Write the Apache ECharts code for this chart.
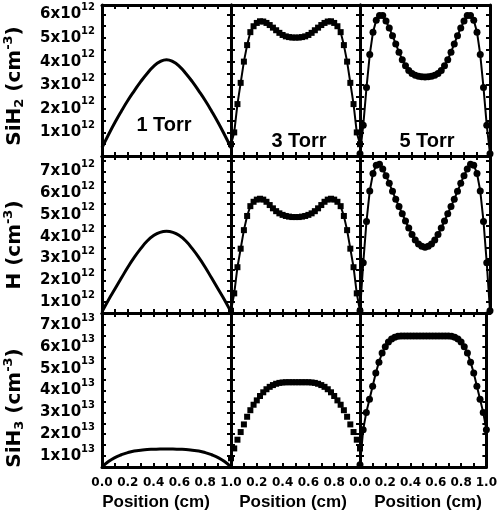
<!DOCTYPE html>
<html>
<head>
<meta charset="utf-8">
<script src="https://cdn.jsdelivr.net/npm/echarts@6.0.0/dist/echarts.min.js"></script>
<style>
  html, body { margin: 0; padding: 0; background: #fff; }
  #chart { width: 500px; height: 512px; }
</style>
</head>
<body>
<div id="chart"></div>
<script>
// x positions (cm)
const posLine = [0, 0.05, 0.1, 0.15, 0.2, 0.25, 0.3, 0.35, 0.4, 0.45, 0.5,
  0.55, 0.6, 0.65, 0.7, 0.75, 0.8, 0.85, 0.9, 0.95, 1.0];
const posMark = [0, 0.025, 0.05, 0.075, 0.1, 0.125, 0.15, 0.175, 0.2, 0.225,
  0.25, 0.275, 0.3, 0.325, 0.35, 0.375, 0.4, 0.425, 0.45, 0.475, 0.5,
  0.525, 0.55, 0.575, 0.6, 0.625, 0.65, 0.675, 0.7, 0.725, 0.75,
  0.775, 0.8, 0.825, 0.85, 0.875, 0.9, 0.925, 0.95, 0.975, 1.0];

// SiH2 (x10^12 cm^-3)
const sih2Torr1 = [0.35, 0.9, 1.42, 1.9, 2.35, 2.76, 3.15, 3.5, 3.8, 4.0, 4.08,
  4.0, 3.8, 3.5, 3.15, 2.76, 2.35, 1.9, 1.42, 0.9, 0.35];
const sih2Torr3 = [0.5, 1.0, 2.2, 3.1, 4.0, 4.7, 5.25, 5.5, 5.64, 5.71, 5.7,
  5.64, 5.55, 5.44, 5.33, 5.22, 5.13, 5.07, 5.04, 5.02, 5.02,
  5.02, 5.04, 5.07, 5.13, 5.22, 5.33, 5.44, 5.55, 5.64, 5.7,
  5.71, 5.64, 5.5, 5.25, 4.7, 4.0, 3.1, 2.2, 1.0, 0.5];
const sih2Torr5 = [0.1, 1.3, 2.9, 4.3, 5.25, 5.75, 5.95, 5.95, 5.72, 5.42,
  5.1, 4.75, 4.4, 4.08, 3.82, 3.62, 3.5, 3.42, 3.38, 3.36, 3.35,
  3.36, 3.38, 3.42, 3.5, 3.62, 3.82, 4.08, 4.4, 4.75, 5.1,
  5.42, 5.72, 5.95, 5.95, 5.75, 5.25, 4.3, 2.9, 1.3, 0.1];

// H (x10^12 cm^-3)
const hTorr1 = [0.55, 1.1, 1.6, 2.1, 2.6, 3.05, 3.45, 3.8, 4.05, 4.2, 4.25,
  4.2, 4.05, 3.8, 3.45, 3.05, 2.6, 2.1, 1.6, 1.1, 0.55];
const hTorr3 = [0.6, 1.4, 2.6, 3.45, 4.3, 4.95, 5.4, 5.6, 5.7, 5.74, 5.7,
  5.6, 5.45, 5.3, 5.17, 5.07, 5.0, 4.95, 4.92, 4.9, 4.9,
  4.9, 4.92, 4.95, 5.0, 5.07, 5.17, 5.3, 5.45, 5.6, 5.7,
  5.74, 5.7, 5.6, 5.4, 4.95, 4.3, 3.45, 2.6, 1.4, 0.6];
const hTorr5 = [0.6, 2.8, 4.7, 6.1, 6.9, 7.28, 7.32, 7.1, 6.8, 6.45,
  6.08, 5.72, 5.38, 5.05, 4.72, 4.4, 4.1, 3.85, 3.67, 3.56, 3.52,
  3.56, 3.67, 3.85, 4.1, 4.4, 4.72, 5.05, 5.38, 5.72, 6.08,
  6.45, 6.8, 7.1, 7.32, 7.28, 6.9, 6.1, 4.7, 2.8, 0.6];

// SiH3 (x10^13 cm^-3)
const sih3Torr1 = [0.5, 0.75, 0.93, 1.06, 1.16, 1.23, 1.27, 1.3, 1.31, 1.32, 1.32,
  1.32, 1.31, 1.3, 1.27, 1.23, 1.16, 1.06, 0.93, 0.75, 0.5];
const sih3Torr3 = [0.9, 1.35, 1.75, 2.1, 2.45, 2.8, 3.1, 3.35, 3.55, 3.75,
  3.92, 4.06, 4.17, 4.25, 4.31, 4.35, 4.37, 4.38, 4.38, 4.38, 4.38,
  4.38, 4.38, 4.38, 4.38, 4.37, 4.35, 4.31, 4.25, 4.17, 4.06,
  3.92, 3.75, 3.55, 3.35, 3.1, 2.8, 2.45, 2.1, 1.75, 1.35, 0.9];
const sih3Torr5 = [0.6, 2.2, 3.0, 3.6, 4.2, 4.8, 5.3, 5.72, 6.0, 6.22,
  6.36, 6.44, 6.48, 6.5, 6.5, 6.5, 6.5, 6.5, 6.5, 6.5, 6.5,
  6.5, 6.5, 6.5, 6.5, 6.5, 6.5, 6.5, 6.5, 6.48, 6.44,
  6.36, 6.22, 6.0, 5.72, 5.3, 4.8, 4.2, 3.6, 3.0, 2.2, 0.6];

const pressureLabels = ['1 Torr', '3 Torr', '5 Torr'];
const yMin = [0, 0.5, 0.5];
const yMax = [6.4, 7.7, 7.55];
const yExponent = ['12', '12', '13'];

const COL_LEFT = [102, 231, 360];
const COL_WIDTH = [129, 129, 130];
const ROW_TOP = [5, 156, 313];
const ROW_HEIGHT = [151, 157, 154];

const TICK_FONT = 'DejaVu Sans';
const TITLE_FONT = 'Liberation Sans';

const panels = [
  [sih2Torr1, sih2Torr3, sih2Torr5],
  [hTorr1, hTorr3, hTorr5],
  [sih3Torr1, sih3Torr3, sih3Torr5]
];

const grid = [];
const xAxis = [];
const yAxis = [];
const series = [];

const frameLine = { show: true, onZero: false, lineStyle: { color: '#000', width: 3 } };
const innerTick = { show: true, inside: true, length: 4, lineStyle: { color: '#000', width: 2 } };

for (let r = 0; r < 3; r++) {
  for (let c = 0; c < 3; c++) {
    const g = grid.length;
    grid.push({
      left: COL_LEFT[c], top: ROW_TOP[r],
      width: COL_WIDTH[c], height: ROW_HEIGHT[r],
      containLabel: false
    });

    const bottomRow = r === 2;
    xAxis.push({
      type: 'value', gridIndex: g, position: 'bottom',
      min: 0, max: 1, interval: 0.1,
      axisLine: frameLine, axisTick: innerTick, splitLine: { show: false },
      axisLabel: {
        show: bottomRow,
        margin: 10,
        fontFamily: TICK_FONT, fontWeight: 'bold', fontSize: 12, color: '#000',
        showMinLabel: c !== 1, showMaxLabel: c !== 1,
        formatter: v => {
          const t = Math.round(v * 10);
          return t % 2 === 0 ? (t / 10).toFixed(1) : '';
        }
      }
    });
    xAxis.push({
      type: 'value', gridIndex: g, position: 'top',
      min: 0, max: 1, interval: 0.1,
      axisLine: frameLine, axisTick: innerTick,
      splitLine: { show: false }, axisLabel: { show: false }
    });

    const exp = yExponent[r];
    yAxis.push({
      type: 'value', gridIndex: g, position: 'left',
      min: yMin[r], max: yMax[r], interval: 0.5,
      axisLine: frameLine, axisTick: innerTick, splitLine: { show: false },
      axisLabel: {
        show: c === 0,
        margin: 7,
        color: '#000',
        formatter: v => {
          const n = Math.round(v);
          if (Math.abs(v - n) > 1e-6 || n < 1) return '';
          return '{m|' + n + 'x10}{e|' + exp + '}';
        },
        rich: {
          m: { fontFamily: TICK_FONT, fontWeight: 'bold', fontSize: 15, color: '#000' },
          e: { fontFamily: TICK_FONT, fontWeight: 'bold', fontSize: 10, color: '#000', padding: [0, 0, 14, 0] }
        }
      }
    });
    yAxis.push({
      type: 'value', gridIndex: g, position: 'right',
      min: yMin[r], max: yMax[r], interval: 0.5,
      axisLine: frameLine, axisTick: innerTick,
      splitLine: { show: false }, axisLabel: { show: false }
    });

    const vals = panels[r][c];
    const xs = c === 0 ? posLine : posMark;
    const s = {
      type: 'line',
      xAxisIndex: 2 * g,
      yAxisIndex: 2 * g,
      data: vals.map((v, i) => [xs[i], v]),
      lineStyle: { color: '#000', width: 2 },
      itemStyle: { color: '#000' },
      emphasis: { disabled: true },
      silent: true
    };
    if (c === 0) {
      s.smooth = true;
      s.showSymbol = false;
      s.symbol = 'none';
      s.lineStyle.width = 3;
    } else if (c === 1) {
      s.symbol = 'rect';
      s.symbolSize = 6;
      if (r === 2) s.lineStyle.width = 0;
    } else {
      s.symbol = 'circle';
      s.symbolSize = 7;
    }
    series.push(s);
  }
}

const boldText = (x, y, text, size) => ({
  type: 'text', x, y, silent: true,
  style: {
    text, fill: '#000',
    font: 'bold ' + size + 'px "' + TITLE_FONT + '"',
    align: 'center', verticalAlign: 'middle',
    textAlign: 'center', textVerticalAlign: 'middle'
  }
});

const nameRich = {
  m: { fontFamily: TICK_FONT, fontWeight: 'bold', fontSize: 20, color: '#000' },
  sub: { fontFamily: TICK_FONT, fontWeight: 'bold', fontSize: 13, color: '#000', padding: [10, 0, 0, 0] },
  sup: { fontFamily: TICK_FONT, fontWeight: 'bold', fontSize: 13, color: '#000', padding: [0, 0, 12, 0] }
};
const yName = (y, text) => ({
  type: 'text', x: 15, y, rotation: Math.PI / 2, silent: true,
  style: {
    text, rich: nameRich, fill: '#000',
    align: 'center', verticalAlign: 'middle',
    textAlign: 'center', textVerticalAlign: 'middle'
  }
});

const graphic = [
  boldText(164, 125, pressureLabels[0], 20),
  boldText(299, 141, pressureLabels[1], 20),
  boldText(427, 141, pressureLabels[2], 20),
  boldText(156, 502, 'Position (cm)', 17),
  boldText(293, 502, 'Position (cm)', 17),
  boldText(428, 502, 'Position (cm)', 17),
  yName(86, '{m|SiH}{sub|2}{m| (cm}{sup|-3}{m|)}'),
  yName(245, '{m|H (cm}{sup|-3}{m|)}'),
  yName(408, '{m|SiH}{sub|3}{m| (cm}{sup|-3}{m|)}')
];

const chart = echarts.init(document.getElementById('chart'), null, { renderer: 'canvas' });
chart.setOption({
  animation: false,
  backgroundColor: '#fff',
  grid,
  xAxis,
  yAxis,
  series,
  graphic
});
</script>
</body>
</html>
